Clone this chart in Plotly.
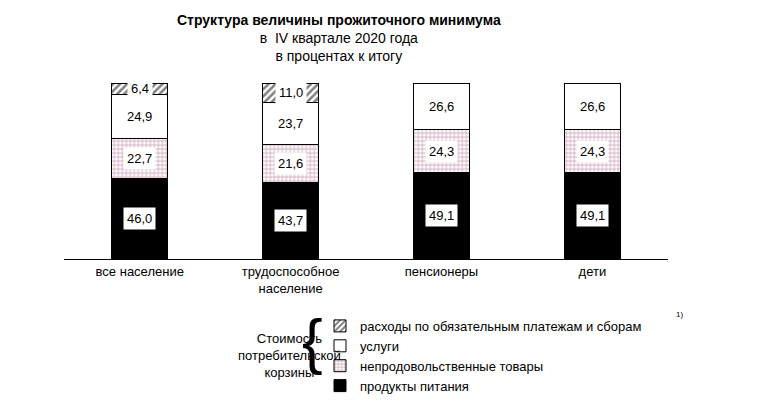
import plotly.graph_objects as go

categories = ["все население", "трудоспособное<br>население", "пенсионеры", "дети"]
food = [46.0, 43.7, 49.1, 49.1]
nonfood = [22.7, 21.6, 24.3, 24.3]
services = [24.9, 23.7, 26.6, 26.6]
payments = [6.4, 11.0, 0.0, 0.0]
names = ["продукты питания", "непродовольственные товары", "услуги",
         "расходы по обязательным платежам и сборам"]

fig = go.Figure()
series = [food, nonfood, services, payments]
styles = [
    dict(color="black", line=dict(color="black", width=1)),
    dict(color="white", line=dict(color="black", width=1),
         pattern=dict(shape="+", fgcolor="#a0527a", size=4, solidity=0.4)),
    dict(color="white", line=dict(color="black", width=1)),
    dict(color="white", line=dict(color="black", width=1),
         pattern=dict(shape="/", fgcolor="black", size=5, solidity=0.5)),
]
for vals, nm, st in zip(series, names, styles):
    fig.add_bar(x=categories, y=vals, name=nm, marker=st, width=0.37)

ann = []
for i, c in enumerate(categories):
    base = 0
    for vals in series:
        v = vals[i]
        if v > 0:
            ann.append(dict(x=c, y=base + v / 2, text=f"{v:.1f}".replace(".", ","),
                            showarrow=False, bgcolor="white", borderpad=3,
                            font=dict(size=13, color="black")))
        base += v

ann += [
    dict(xref="paper", yref="paper", x=0.435, y=0.995, yanchor="top",
         text="<b>Структура величины прожиточного минимума</b><br>в  IV квартале 2020 года<br>в процентах к итогу",
         showarrow=False, font=dict(size=14, color="black"), align="center"),
    dict(xref="paper", yref="paper", x=0.30, y=0.10, text="Стоимость<br>потребительской<br>корзины",
         showarrow=False, font=dict(size=13, color="black"), align="center"),
    dict(xref="paper", yref="paper", x=0.40, y=0.11, text="{", showarrow=False,
         font=dict(size=62, color="black", family="Liberation Sans")),
    dict(xref="paper", yref="paper", x=0.89, y=0.245, text="1)", showarrow=False,
         font=dict(size=8, color="black")),
]

fig.update_layout(
    barmode="stack", width=761, height=415,
    paper_bgcolor="white", plot_bgcolor="white",
    margin=dict(l=0, r=0, t=0, b=0),
    font=dict(family="Liberation Sans, Arial", size=13, color="black"),
    xaxis=dict(domain=[0.074, 0.867], showline=True, linecolor="black", ticks="", tickfont=dict(size=13)),
    yaxis=dict(domain=[0.395, 0.819], range=[0, 100], visible=False),
    showlegend=True,
    legend=dict(x=0.41, y=0.27, xanchor="left", yanchor="top", traceorder="reversed",
                font=dict(size=13), itemwidth=30, tracegroupgap=0, bgcolor="rgba(0,0,0,0)"),
    annotations=ann,
)
fig.write_html("out.html")
